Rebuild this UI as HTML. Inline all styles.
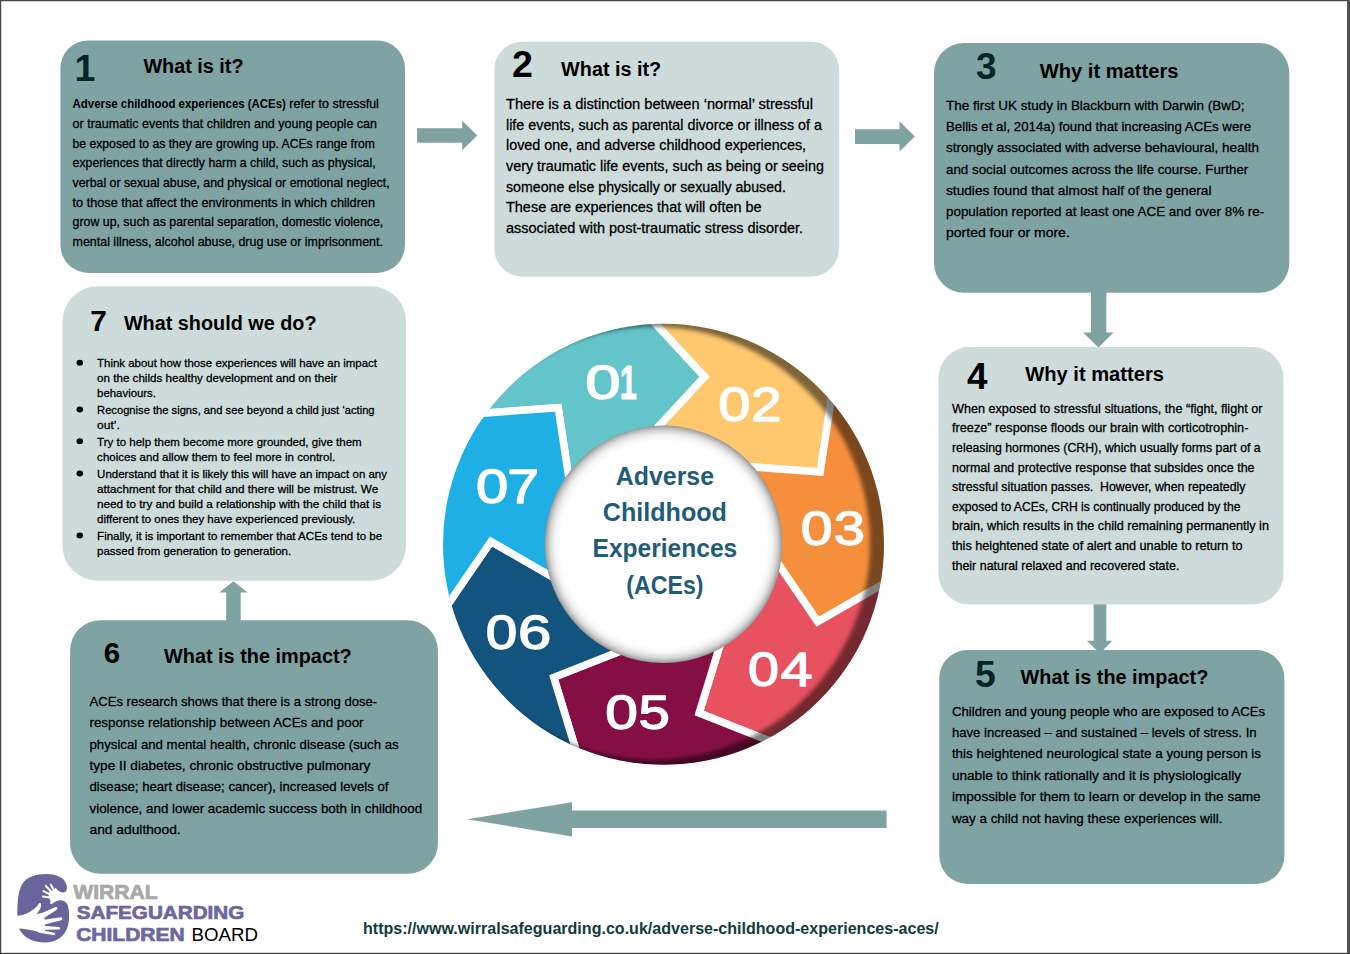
<!DOCTYPE html>
<html lang="en"><head><meta charset="utf-8"><title>Adverse Childhood Experiences (ACEs)</title>
<style>
html,body{margin:0;padding:0;background:#fff;}
body{width:1350px;height:954px;overflow:hidden;position:relative;}
svg{display:block;position:absolute;left:0;top:0;}
svg text{font-family:"Liberation Sans",sans-serif;white-space:pre;}
</style></head><body>
<svg width="1350" height="954" viewBox="0 0 1350 954">
<rect x="0" y="0" width="1350" height="954" fill="#fff"/>
<polygon points="417.1,128.3 462.2,128.3 462.2,120.7 477.3,135.4 462.2,150.2 462.2,142.7 417.1,142.7" fill="#7fa3a2"/>
<polygon points="855.0,129.2 899.5,129.2 899.5,121.2 914.8,136.4 899.5,151.5 899.5,144.0 855.0,144.0" fill="#7fa3a2"/>
<polygon points="1091.0,287.0 1106.3,287.0 1106.3,332.4 1113.6,332.4 1098.5,347.6 1083.2,332.4 1091.0,332.4" fill="#7fa3a2"/>
<polygon points="1093.7,600.0 1106.3,600.0 1106.3,640.8 1112.2,640.8 1100.0,653.5 1087.0,640.8 1093.7,640.8" fill="#7fa3a2"/>
<polygon points="226.2,626.0 226.2,592.5 219.2,592.5 233.4,581.2 247.6,592.5 240.7,592.5 240.7,626.0" fill="#7fa3a2"/>
<polygon points="886.6,810.4 572.0,810.4 572.0,802.2 467.2,819.2 572.0,836.6 572.0,827.9 886.6,827.9" fill="#7fa3a2"/>
<rect x="60.4" y="40.4" width="344.6" height="232.5" rx="27.9" fill="#7fa3a2"/>
<rect x="494.3" y="41.7" width="344.7" height="235.0" rx="28.2" fill="#cddbda"/>
<rect x="934" y="43" width="355.3" height="249.7" rx="30.0" fill="#7fa3a2"/>
<rect x="938.5" y="347.1" width="344.9" height="257.4" rx="30.9" fill="#cddbda"/>
<rect x="939.3" y="650" width="345.1" height="233.9" rx="28.1" fill="#7fa3a2"/>
<rect x="70.1" y="620.2" width="367.8" height="253.6" rx="30.4" fill="#7fa3a2"/>
<rect x="62.5" y="286.2" width="343.5" height="294.5" rx="35.3" fill="#cddbda"/>
<ellipse cx="79.8" cy="362.7" rx="3.3" ry="3" fill="#000"/>
<ellipse cx="79.8" cy="409.4" rx="3.3" ry="3" fill="#000"/>
<ellipse cx="79.8" cy="441.3" rx="3.3" ry="3" fill="#000"/>
<ellipse cx="79.8" cy="473.5" rx="3.3" ry="3" fill="#000"/>
<ellipse cx="79.8" cy="535.4" rx="3.3" ry="3" fill="#000"/>
<defs>
<clipPath id="ringclip"><circle cx="663.5" cy="544.3" r="220.5"/></clipPath>
<radialGradient id="hole" cx="50%" cy="50%" r="50%"><stop offset="0" stop-color="#fff"/><stop offset="0.87" stop-color="#fff"/><stop offset="0.915" stop-color="#f4f4f4"/><stop offset="0.955" stop-color="#d8d8d8"/><stop offset="0.985" stop-color="#b0b0b0"/><stop offset="1" stop-color="#949494"/></radialGradient>
<filter id="blur3" x="-20%" y="-20%" width="140%" height="140%"><feGaussianBlur stdDeviation="2.2"/></filter>
</defs>
<g clip-path="url(#ringclip)">
<path d="M476.37,413.65 A228.23,228.23 0 0 1 648.97,316.54 L704.65,376.78 L653.02,432.52 A112.27,112.27 0 0 0 569.57,482.80 L558.18,407.68 Z" fill="#63c4c9" stroke="#fff" stroke-width="7.5" stroke-linejoin="miter"/>
<path d="M648.97,316.54 A228.23,228.23 0 0 1 832.51,390.93 L820.13,472.02 L744.36,466.41 A112.27,112.27 0 0 0 653.02,432.52 L704.65,376.78 Z" fill="#fdc86e" stroke="#fff" stroke-width="7.5" stroke-linejoin="miter"/>
<path d="M832.51,390.93 A228.23,228.23 0 0 1 888.79,580.81 L817.66,621.69 L774.81,558.95 A112.27,112.27 0 0 0 744.36,466.41 L820.13,472.02 Z" fill="#f58f3c" stroke="#fff" stroke-width="7.5" stroke-linejoin="miter"/>
<path d="M888.79,580.81 A228.23,228.23 0 0 1 775.42,743.20 L699.11,713.08 L721.45,640.46 A112.27,112.27 0 0 0 774.81,558.95 L817.66,621.69 Z" fill="#e8515f" stroke="#fff" stroke-width="7.5" stroke-linejoin="miter"/>
<path d="M775.42,743.20 A228.23,228.23 0 0 1 577.77,755.81 L553.74,677.38 L624.44,649.56 A112.27,112.27 0 0 0 721.45,640.46 L699.11,713.08 Z" fill="#850f44" stroke="#fff" stroke-width="7.5" stroke-linejoin="miter"/>
<path d="M577.77,755.81 A228.23,228.23 0 0 1 444.68,609.15 L491.02,541.46 L556.85,579.39 A112.27,112.27 0 0 0 624.44,649.56 L553.74,677.38 Z" fill="#13547f" stroke="#fff" stroke-width="7.5" stroke-linejoin="miter"/>
<path d="M444.68,609.15 A228.23,228.23 0 0 1 476.37,413.65 L558.18,407.68 L569.57,482.80 A112.27,112.27 0 0 0 556.85,579.39 L491.02,541.46 Z" fill="#1eb0e4" stroke="#fff" stroke-width="7.5" stroke-linejoin="miter"/>
<circle cx="653.5" cy="543.3" r="231.5" fill="none" stroke="#000" stroke-opacity="0.5" stroke-width="30" filter="url(#blur3)"/>
</g>
<circle cx="663.5" cy="544.3" r="118.7" fill="url(#hole)"/>
<text y="398.8" font-size="49" fill="#fff" stroke="#fff" stroke-width="1.4" stroke-linejoin="round"><tspan x="585.21" textLength="35.37" lengthAdjust="spacingAndGlyphs">0</tspan><tspan x="619.71" textLength="17.09" lengthAdjust="spacingAndGlyphs" font-weight="700" stroke-width="0.9">1</tspan></text>
<text y="420.7" font-size="49" fill="#fff" stroke="#fff" stroke-width="1.4" stroke-linejoin="round"><tspan x="718.34" textLength="32.12" lengthAdjust="spacingAndGlyphs">0</tspan><tspan x="751.04" textLength="30.52" lengthAdjust="spacingAndGlyphs">2</tspan></text>
<text y="544.7" font-size="49" fill="#fff" stroke="#fff" stroke-width="1.4" stroke-linejoin="round"><tspan x="800.67" textLength="31.77" lengthAdjust="spacingAndGlyphs">0</tspan><tspan x="833.86" textLength="31.21" lengthAdjust="spacingAndGlyphs">3</tspan></text>
<text y="686.0" font-size="49" fill="#fff" stroke="#fff" stroke-width="1.4" stroke-linejoin="round"><tspan x="747.92" textLength="30.95" lengthAdjust="spacingAndGlyphs">0</tspan><tspan x="780.48" textLength="32.00" lengthAdjust="spacingAndGlyphs">4</tspan></text>
<text y="729.2" font-size="49" fill="#fff" stroke="#fff" stroke-width="1.4" stroke-linejoin="round"><tspan x="605.31" textLength="32.58" lengthAdjust="spacingAndGlyphs">0</tspan><tspan x="638.45" textLength="31.32" lengthAdjust="spacingAndGlyphs">5</tspan></text>
<text y="648.7" font-size="49" fill="#fff" stroke="#fff" stroke-width="1.4" stroke-linejoin="round"><tspan x="485.68" textLength="31.53" lengthAdjust="spacingAndGlyphs">0</tspan><tspan x="517.96" textLength="33.27" lengthAdjust="spacingAndGlyphs">6</tspan></text>
<text y="502.8" font-size="49" fill="#fff" stroke="#fff" stroke-width="1.4" stroke-linejoin="round"><tspan x="476.03" textLength="32.23" lengthAdjust="spacingAndGlyphs">0</tspan><tspan x="507.37" textLength="31.81" lengthAdjust="spacingAndGlyphs">7</tspan></text>

<text x="664.9" y="485.3" font-size="25.03" font-weight="700" fill="#1f5c78" text-anchor="middle" textLength="98.2" lengthAdjust="spacingAndGlyphs">Adverse</text>
<text x="664.9" y="521.4" font-size="25.03" font-weight="700" fill="#1f5c78" text-anchor="middle" textLength="124.1" lengthAdjust="spacingAndGlyphs">Childhood</text>
<text x="664.9" y="557.4" font-size="25.03" font-weight="700" fill="#1f5c78" text-anchor="middle" textLength="144.8" lengthAdjust="spacingAndGlyphs">Experiences</text>
<text x="664.9" y="593.5" font-size="25.03" font-weight="700" fill="#1f5c78" text-anchor="middle" textLength="77.1" lengthAdjust="spacingAndGlyphs">(ACEs)</text>
<text x="74.5" y="80.9" font-size="37.50" font-weight="700" fill="#022526">1</text>
<text x="143.4" y="73.4" font-size="20.93" font-weight="700" fill="#000" textLength="100.1" lengthAdjust="spacingAndGlyphs">What is it?</text>
<text x="72.6" y="108.2" font-size="12.34" font-weight="700" fill="#000" textLength="213.3" lengthAdjust="spacingAndGlyphs">Adverse childhood experiences (ACEs)</text>
<text x="285.9" y="108.2" font-size="12.34" stroke="#000" stroke-width="0.28" fill="#000" textLength="93.0" lengthAdjust="spacingAndGlyphs"> refer to stressful</text>
<text x="72.6" y="127.9" font-size="12.34" stroke="#000" stroke-width="0.28" fill="#000" textLength="304.4" lengthAdjust="spacingAndGlyphs">or traumatic events that children and young people can</text>
<text x="72.6" y="147.5" font-size="12.34" stroke="#000" stroke-width="0.28" fill="#000" textLength="302.3" lengthAdjust="spacingAndGlyphs">be exposed to as they are growing up. ACEs range from</text>
<text x="72.6" y="167.2" font-size="12.34" stroke="#000" stroke-width="0.28" fill="#000" textLength="303.0" lengthAdjust="spacingAndGlyphs">experiences that directly harm a child, such as physical,</text>
<text x="72.6" y="186.8" font-size="12.34" stroke="#000" stroke-width="0.28" fill="#000" textLength="317.0" lengthAdjust="spacingAndGlyphs">verbal or sexual abuse, and physical or emotional neglect,</text>
<text x="72.6" y="206.5" font-size="12.34" stroke="#000" stroke-width="0.28" fill="#000" textLength="302.4" lengthAdjust="spacingAndGlyphs">to those that affect the environments in which children</text>
<text x="72.6" y="226.2" font-size="12.34" stroke="#000" stroke-width="0.28" fill="#000" textLength="310.7" lengthAdjust="spacingAndGlyphs">grow up, such as parental separation, domestic violence,</text>
<text x="72.6" y="245.8" font-size="12.34" stroke="#000" stroke-width="0.28" fill="#000" textLength="310.3" lengthAdjust="spacingAndGlyphs">mental illness, alcohol abuse, drug use or imprisonment.</text>
<text x="512.0" y="77.0" font-size="37.50" font-weight="700" fill="#000">2</text>
<text x="561.1" y="75.6" font-size="20.93" font-weight="700" fill="#000" textLength="100.1" lengthAdjust="spacingAndGlyphs">What is it?</text>
<text x="506.0" y="108.9" font-size="14.40" stroke="#000" stroke-width="0.28" fill="#000" textLength="307.0" lengthAdjust="spacingAndGlyphs">There is a distinction between ‘normal’ stressful</text>
<text x="506.0" y="129.6" font-size="14.40" stroke="#000" stroke-width="0.28" fill="#000" textLength="315.9" lengthAdjust="spacingAndGlyphs">life events, such as parental divorce or illness of a</text>
<text x="506.0" y="150.2" font-size="14.40" stroke="#000" stroke-width="0.28" fill="#000" textLength="300.1" lengthAdjust="spacingAndGlyphs">loved one, and adverse childhood experiences,</text>
<text x="506.0" y="170.9" font-size="14.40" stroke="#000" stroke-width="0.28" fill="#000" textLength="317.9" lengthAdjust="spacingAndGlyphs">very traumatic life events, such as being or seeing</text>
<text x="506.0" y="191.6" font-size="14.40" stroke="#000" stroke-width="0.28" fill="#000" textLength="279.9" lengthAdjust="spacingAndGlyphs">someone else physically or sexually abused.</text>
<text x="506.0" y="212.2" font-size="14.40" stroke="#000" stroke-width="0.28" fill="#000" textLength="255.6" lengthAdjust="spacingAndGlyphs">These are experiences that will often be</text>
<text x="506.0" y="232.9" font-size="14.40" stroke="#000" stroke-width="0.28" fill="#000" textLength="297.1" lengthAdjust="spacingAndGlyphs">associated with post-traumatic stress disorder.</text>
<text x="976.1" y="79.1" font-size="37.00" font-weight="700" fill="#022526">3</text>
<text x="1039.8" y="77.7" font-size="20.93" font-weight="700" fill="#000" textLength="138.6" lengthAdjust="spacingAndGlyphs">Why it matters</text>
<text x="946.0" y="109.8" font-size="13.41" stroke="#000" stroke-width="0.28" fill="#000" textLength="298.4" lengthAdjust="spacingAndGlyphs">The first UK study in Blackburn with Darwin (BwD;</text>
<text x="946.0" y="131.1" font-size="13.41" stroke="#000" stroke-width="0.28" fill="#000" textLength="305.1" lengthAdjust="spacingAndGlyphs">Bellis et al, 2014a) found that increasing ACEs were</text>
<text x="946.0" y="152.3" font-size="13.41" stroke="#000" stroke-width="0.28" fill="#000" textLength="312.9" lengthAdjust="spacingAndGlyphs">strongly associated with adverse behavioural, health</text>
<text x="946.0" y="173.6" font-size="13.41" stroke="#000" stroke-width="0.28" fill="#000" textLength="302.3" lengthAdjust="spacingAndGlyphs">and social outcomes across the life course. Further</text>
<text x="946.0" y="194.9" font-size="13.41" stroke="#000" stroke-width="0.28" fill="#000" textLength="265.5" lengthAdjust="spacingAndGlyphs">studies found that almost half of the general</text>
<text x="946.0" y="216.1" font-size="13.41" stroke="#000" stroke-width="0.28" fill="#000" textLength="318.2" lengthAdjust="spacingAndGlyphs">population reported at least one ACE and over 8% re-</text>
<text x="946.0" y="237.4" font-size="13.41" stroke="#000" stroke-width="0.28" fill="#000" textLength="123.8" lengthAdjust="spacingAndGlyphs">ported four or more.</text>
<text x="967.0" y="389.4" font-size="36.80" font-weight="700" fill="#000">4</text>
<text x="1025.3" y="381.4" font-size="20.93" font-weight="700" fill="#000" textLength="138.6" lengthAdjust="spacingAndGlyphs">Why it matters</text>
<text x="952.0" y="412.8" font-size="12.35" stroke="#000" stroke-width="0.28" fill="#000" textLength="310.5" lengthAdjust="spacingAndGlyphs">When exposed to stressful situations, the “fight, flight or</text>
<text x="952.0" y="432.4" font-size="12.35" stroke="#000" stroke-width="0.28" fill="#000" textLength="296.4" lengthAdjust="spacingAndGlyphs">freeze” response floods our brain with corticotrophin-</text>
<text x="952.0" y="452.0" font-size="12.35" stroke="#000" stroke-width="0.28" fill="#000" textLength="308.7" lengthAdjust="spacingAndGlyphs">releasing hormones (CRH), which usually forms part of a</text>
<text x="952.0" y="471.6" font-size="12.35" stroke="#000" stroke-width="0.28" fill="#000" textLength="302.5" lengthAdjust="spacingAndGlyphs">normal and protective response that subsides once the</text>
<text x="952.0" y="491.2" font-size="12.35" stroke="#000" stroke-width="0.28" fill="#000" textLength="293.5" lengthAdjust="spacingAndGlyphs">stressful situation passes.  However, when repeatedly</text>
<text x="952.0" y="510.8" font-size="12.35" stroke="#000" stroke-width="0.28" fill="#000" textLength="288.4" lengthAdjust="spacingAndGlyphs">exposed to ACEs, CRH is continually produced by the</text>
<text x="952.0" y="530.4" font-size="12.35" stroke="#000" stroke-width="0.28" fill="#000" textLength="316.9" lengthAdjust="spacingAndGlyphs">brain, which results in the child remaining permanently in</text>
<text x="952.0" y="550.0" font-size="12.35" stroke="#000" stroke-width="0.28" fill="#000" textLength="290.5" lengthAdjust="spacingAndGlyphs">this heightened state of alert and unable to return to</text>
<text x="952.0" y="569.6" font-size="12.35" stroke="#000" stroke-width="0.28" fill="#000" textLength="227.4" lengthAdjust="spacingAndGlyphs">their natural relaxed and recovered state.</text>
<text x="975.0" y="686.9" font-size="37.30" font-weight="700" fill="#022526">5</text>
<text x="1020.6" y="683.8" font-size="20.93" font-weight="700" fill="#000" textLength="187.7" lengthAdjust="spacingAndGlyphs">What is the impact?</text>
<text x="951.9" y="715.5" font-size="13.38" stroke="#000" stroke-width="0.28" fill="#000" textLength="313.3" lengthAdjust="spacingAndGlyphs">Children and young people who are exposed to ACEs</text>
<text x="951.9" y="736.9" font-size="13.38" stroke="#000" stroke-width="0.28" fill="#000" textLength="304.7" lengthAdjust="spacingAndGlyphs">have increased – and sustained – levels of stress. In</text>
<text x="951.9" y="758.3" font-size="13.38" stroke="#000" stroke-width="0.28" fill="#000" textLength="309.1" lengthAdjust="spacingAndGlyphs">this heightened neurological state a young person is</text>
<text x="951.9" y="779.7" font-size="13.38" stroke="#000" stroke-width="0.28" fill="#000" textLength="289.1" lengthAdjust="spacingAndGlyphs">unable to think rationally and it is physiologically</text>
<text x="951.9" y="801.1" font-size="13.38" stroke="#000" stroke-width="0.28" fill="#000" textLength="308.8" lengthAdjust="spacingAndGlyphs">impossible for them to learn or develop in the same</text>
<text x="951.9" y="822.5" font-size="13.38" stroke="#000" stroke-width="0.28" fill="#000" textLength="270.5" lengthAdjust="spacingAndGlyphs">way a child not having these experiences will.</text>
<text x="103.8" y="662.7" font-size="29.50" font-weight="700" fill="#000">6</text>
<text x="164.0" y="663.0" font-size="20.93" font-weight="700" fill="#000" textLength="187.7" lengthAdjust="spacingAndGlyphs">What is the impact?</text>
<text x="89.5" y="706.0" font-size="13.38" stroke="#000" stroke-width="0.28" fill="#000" textLength="287.7" lengthAdjust="spacingAndGlyphs">ACEs research shows that there is a strong dose-</text>
<text x="89.5" y="727.3" font-size="13.38" stroke="#000" stroke-width="0.28" fill="#000" textLength="274.0" lengthAdjust="spacingAndGlyphs">response relationship between ACEs and poor</text>
<text x="89.5" y="748.6" font-size="13.38" stroke="#000" stroke-width="0.28" fill="#000" textLength="309.2" lengthAdjust="spacingAndGlyphs">physical and mental health, chronic disease (such as</text>
<text x="89.5" y="769.9" font-size="13.38" stroke="#000" stroke-width="0.28" fill="#000" textLength="280.8" lengthAdjust="spacingAndGlyphs">type II diabetes, chronic obstructive pulmonary</text>
<text x="89.5" y="791.2" font-size="13.38" stroke="#000" stroke-width="0.28" fill="#000" textLength="299.0" lengthAdjust="spacingAndGlyphs">disease; heart disease; cancer), increased levels of</text>
<text x="89.5" y="812.5" font-size="13.38" stroke="#000" stroke-width="0.28" fill="#000" textLength="332.6" lengthAdjust="spacingAndGlyphs">violence, and lower academic success both in childhood</text>
<text x="89.5" y="833.8" font-size="13.38" stroke="#000" stroke-width="0.28" fill="#000" textLength="91.2" lengthAdjust="spacingAndGlyphs">and adulthood.</text>
<text x="90.2" y="330.9" font-size="29.80" font-weight="700" fill="#000">7</text>
<text x="123.9" y="330.4" font-size="20.93" font-weight="700" fill="#000" textLength="192.7" lengthAdjust="spacingAndGlyphs">What should we do?</text>
<text x="97.1" y="366.9" font-size="11.35" stroke="#000" stroke-width="0.28" fill="#000" textLength="279.8" lengthAdjust="spacingAndGlyphs">Think about how those experiences will have an impact</text>
<text x="97.1" y="381.8" font-size="11.35" stroke="#000" stroke-width="0.28" fill="#000" textLength="240.0" lengthAdjust="spacingAndGlyphs">on the childs healthy development and on their</text>
<text x="97.1" y="396.7" font-size="11.35" stroke="#000" stroke-width="0.28" fill="#000" textLength="58.9" lengthAdjust="spacingAndGlyphs">behaviours.</text>
<text x="97.1" y="413.6" font-size="11.35" stroke="#000" stroke-width="0.28" fill="#000" textLength="277.5" lengthAdjust="spacingAndGlyphs">Recognise the signs, and see beyond a child just ‘acting</text>
<text x="97.1" y="428.9" font-size="11.35" stroke="#000" stroke-width="0.28" fill="#000" textLength="22.8" lengthAdjust="spacingAndGlyphs">out’.</text>
<text x="97.1" y="445.5" font-size="11.35" stroke="#000" stroke-width="0.28" fill="#000" textLength="264.6" lengthAdjust="spacingAndGlyphs">Try to help them become more grounded, give them</text>
<text x="97.1" y="460.7" font-size="11.35" stroke="#000" stroke-width="0.28" fill="#000" textLength="238.1" lengthAdjust="spacingAndGlyphs">choices and allow them to feel more in control.</text>
<text x="97.1" y="477.7" font-size="11.35" stroke="#000" stroke-width="0.28" fill="#000" textLength="289.9" lengthAdjust="spacingAndGlyphs">Understand that it is likely this will have an impact on any</text>
<text x="97.1" y="492.9" font-size="11.35" stroke="#000" stroke-width="0.28" fill="#000" textLength="281.1" lengthAdjust="spacingAndGlyphs">attachment for that child and there will be mistrust. We</text>
<text x="97.1" y="507.8" font-size="11.35" stroke="#000" stroke-width="0.28" fill="#000" textLength="283.9" lengthAdjust="spacingAndGlyphs">need to try and build a relationship with the child that is</text>
<text x="97.1" y="522.6" font-size="11.35" stroke="#000" stroke-width="0.28" fill="#000" textLength="258.2" lengthAdjust="spacingAndGlyphs">different to ones they have experienced previously.</text>
<text x="97.1" y="539.6" font-size="11.35" stroke="#000" stroke-width="0.28" fill="#000" textLength="285.0" lengthAdjust="spacingAndGlyphs">Finally, it is important to remember that ACEs tend to be</text>
<text x="97.1" y="554.8" font-size="11.35" stroke="#000" stroke-width="0.28" fill="#000" textLength="194.1" lengthAdjust="spacingAndGlyphs">passed from generation to generation.</text>
<text x="363" y="934" font-size="16.47" font-weight="700" fill="#0f3b3f" textLength="575.7" lengthAdjust="spacingAndGlyphs">https://www.wirralsafeguarding.co.uk/adverse-childhood-experiences-aces/</text>
<g transform="translate(12,868) scale(0.08382)">
<path fill="#68659c" d="M65,572 C60,430 72,265 128,182 C180,105 290,72 400,72 C520,72 618,108 648,195 C666,250 652,290 612,296 C575,300 545,270 520,240 L440,330 L470,432 C500,405 530,388 565,384 C610,380 650,400 668,450 C685,520 685,600 674,660 C655,770 585,852 480,878 C370,905 232,882 152,812 C118,780 98,752 84,722 Z"/>
<g fill="#fff" stroke="none">
<path d="M40,560 L65,571 C150,566 230,520 290,466 L322,424 C342,408 354,430 344,462 C334,498 314,528 292,548 C335,548 405,520 518,466 C548,458 550,490 528,502 L388,594 C380,606 388,616 400,613 L582,588 C606,588 607,616 586,623 L402,672 C386,680 390,692 402,691 L558,703 C582,706 582,731 560,734 L402,738 C390,742 392,751 402,753 L503,772 C524,778 521,802 500,801 L330,771 C280,750 200,731 85,722 L40,722 Z"/>
<path d="M520,240 C545,270 575,300 612,296 L700,290 L700,410 L660,425 C645,395 605,378 565,384 C530,388 500,405 470,432 L452,418 C462,395 478,380 492,368 L430,352 Z"/>
<ellipse cx="482" cy="322" rx="42" ry="50" transform="rotate(-35 482 322)"/>
</g>
<g stroke="#fff" stroke-linecap="round" fill="none">
<line x1="499" y1="268" x2="465" y2="201" stroke-width="27"/>
<line x1="472" y1="288" x2="405" y2="215" stroke-width="25"/>
<line x1="456" y1="318" x2="377" y2="275" stroke-width="24"/>
<line x1="452" y1="352" x2="370" y2="341" stroke-width="25"/>
</g>
</g>
<text x="73.2" y="898.7" font-size="19.6" font-weight="700" fill="#a9a9a9" stroke="#a9a9a9" stroke-width="0.7" textLength="84.5" lengthAdjust="spacingAndGlyphs">WIRRAL</text>
<text x="76.8" y="919.2" font-size="19" font-weight="700" fill="#6b67a1" stroke="#6b67a1" stroke-width="0.7" textLength="167.5" lengthAdjust="spacingAndGlyphs">SAFEGUARDING</text>
<text x="76.2" y="940.6" font-size="19" font-weight="700" fill="#6b67a1" stroke="#6b67a1" stroke-width="0.7" textLength="108.5" lengthAdjust="spacingAndGlyphs">CHILDREN</text>
<text x="191.5" y="940.6" font-size="19" fill="#000" textLength="66.5" lengthAdjust="spacingAndGlyphs">BOARD</text>

<rect x="0" y="0" width="1350" height="1.2" fill="#444"/>
<rect x="0" y="0" width="1.2" height="954" fill="#444"/>
<rect x="1347" y="0" width="3" height="954" fill="#505050"/>
<rect x="0" y="952.8" width="1350" height="1.2" fill="#444"/>
</svg>
</body></html>
